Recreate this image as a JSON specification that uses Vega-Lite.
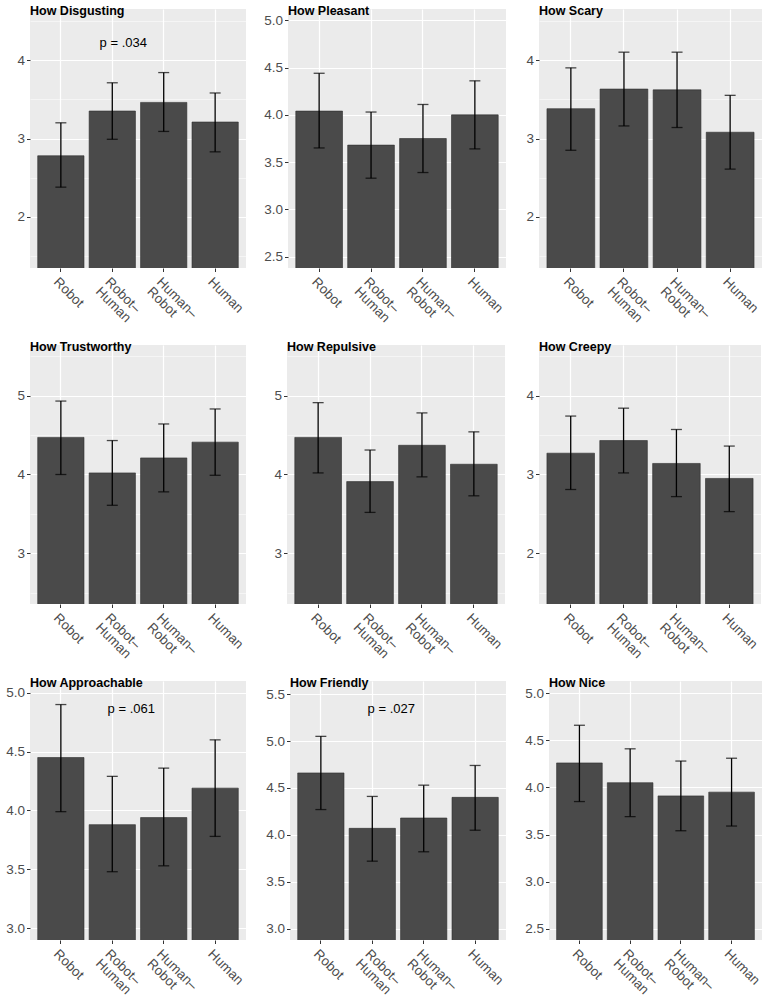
{
  "$schema": "https://vega.github.io/schema/vega-lite/v6.json",
  "padding": {"left": 5, "top": 4, "right": 0, "bottom": 0},
  "background": "white",
  "datasets": {
    "bars": [
      {"measure": "Disgusting", "cond": "Robot", "mean": 2.78, "lo": 2.38, "hi": 3.20},
      {"measure": "Disgusting", "cond": "Robot–Human", "mean": 3.35, "lo": 2.99, "hi": 3.71},
      {"measure": "Disgusting", "cond": "Human–Robot", "mean": 3.46, "lo": 3.09, "hi": 3.84},
      {"measure": "Disgusting", "cond": "Human", "mean": 3.21, "lo": 2.83, "hi": 3.58},
      {"measure": "Pleasant", "cond": "Robot", "mean": 4.04, "lo": 3.65, "hi": 4.44},
      {"measure": "Pleasant", "cond": "Robot–Human", "mean": 3.68, "lo": 3.33, "hi": 4.03},
      {"measure": "Pleasant", "cond": "Human–Robot", "mean": 3.75, "lo": 3.39, "hi": 4.11},
      {"measure": "Pleasant", "cond": "Human", "mean": 4.00, "lo": 3.64, "hi": 4.36},
      {"measure": "Scary", "cond": "Robot", "mean": 3.38, "lo": 2.85, "hi": 3.90},
      {"measure": "Scary", "cond": "Robot–Human", "mean": 3.63, "lo": 3.16, "hi": 4.10},
      {"measure": "Scary", "cond": "Human–Robot", "mean": 3.62, "lo": 3.14, "hi": 4.10},
      {"measure": "Scary", "cond": "Human", "mean": 3.08, "lo": 2.61, "hi": 3.55},
      {"measure": "Trustworthy", "cond": "Robot", "mean": 4.47, "lo": 4.00, "hi": 4.93},
      {"measure": "Trustworthy", "cond": "Robot–Human", "mean": 4.02, "lo": 3.61, "hi": 4.43},
      {"measure": "Trustworthy", "cond": "Human–Robot", "mean": 4.21, "lo": 3.78, "hi": 4.64},
      {"measure": "Trustworthy", "cond": "Human", "mean": 4.41, "lo": 3.99, "hi": 4.83},
      {"measure": "Repulsive", "cond": "Robot", "mean": 4.47, "lo": 4.02, "hi": 4.91},
      {"measure": "Repulsive", "cond": "Robot–Human", "mean": 3.91, "lo": 3.52, "hi": 4.31},
      {"measure": "Repulsive", "cond": "Human–Robot", "mean": 4.37, "lo": 3.97, "hi": 4.78},
      {"measure": "Repulsive", "cond": "Human", "mean": 4.13, "lo": 3.73, "hi": 4.54},
      {"measure": "Creepy", "cond": "Robot", "mean": 3.27, "lo": 2.81, "hi": 3.74},
      {"measure": "Creepy", "cond": "Robot–Human", "mean": 3.43, "lo": 3.02, "hi": 3.84},
      {"measure": "Creepy", "cond": "Human–Robot", "mean": 3.14, "lo": 2.72, "hi": 3.57},
      {"measure": "Creepy", "cond": "Human", "mean": 2.95, "lo": 2.53, "hi": 3.36},
      {"measure": "Approachable", "cond": "Robot", "mean": 4.45, "lo": 3.99, "hi": 4.90},
      {"measure": "Approachable", "cond": "Robot–Human", "mean": 3.88, "lo": 3.48, "hi": 4.29},
      {"measure": "Approachable", "cond": "Human–Robot", "mean": 3.94, "lo": 3.53, "hi": 4.36},
      {"measure": "Approachable", "cond": "Human", "mean": 4.19, "lo": 3.78, "hi": 4.60},
      {"measure": "Friendly", "cond": "Robot", "mean": 4.66, "lo": 4.27, "hi": 5.05},
      {"measure": "Friendly", "cond": "Robot–Human", "mean": 4.07, "lo": 3.72, "hi": 4.41},
      {"measure": "Friendly", "cond": "Human–Robot", "mean": 4.18, "lo": 3.82, "hi": 4.53},
      {"measure": "Friendly", "cond": "Human", "mean": 4.40, "lo": 4.05, "hi": 4.74},
      {"measure": "Nice", "cond": "Robot", "mean": 4.26, "lo": 3.85, "hi": 4.66},
      {"measure": "Nice", "cond": "Robot–Human", "mean": 4.05, "lo": 3.69, "hi": 4.41},
      {"measure": "Nice", "cond": "Human–Robot", "mean": 3.91, "lo": 3.54, "hi": 4.28},
      {"measure": "Nice", "cond": "Human", "mean": 3.95, "lo": 3.59, "hi": 4.31}
    ],
    "pvals": [
      {"measure": "Disgusting", "cond": "Robot–Human", "y": 4.22, "label": "p = .034"},
      {"measure": "Approachable", "cond": "Robot–Human", "y": 4.86, "label": "p = .061"},
      {"measure": "Friendly", "cond": "Robot–Human", "y": 5.34, "label": "p = .027"}
    ]
  },
  "spacing": 10,
  "vconcat": [
    {
      "spacing": 10,
      "hconcat": [
        {
          "width": 216, "height": 259,
          "title": "How Disgusting",
          "encoding": {"x": {"field": "cond", "type": "nominal", "sort": ["Robot", "Robot–Human", "Human–Robot", "Human"], "scale": {"paddingInner": 0.1, "paddingOuter": 0.15}, "axis": {"title": null}}},
          "layer": [
            {"data": {"name": "bars"}, "transform": [{"filter": "datum.measure === 'Disgusting'"}],
             "mark": {"type": "bar", "clip": true, "fill": "#4A4A4A", "stroke": "#2E2E2E", "strokeWidth": 0.6},
             "encoding": {"y": {"field": "mean", "type": "quantitative", "title": null, "scale": {"domain": [1.35, 4.65], "nice": false, "zero": false},
               "axis": {"values": [1.5, 2, 2.5, 3, 3.5, 4, 4.5], "labelExpr": "datum.value % 1 === 0 ? format(datum.value, 'd') : ''",
                 "gridWidth": {"condition": {"test": "datum.value % 1 === 0", "value": 1.2}, "value": 0.5},
                 "tickOpacity": {"condition": {"test": "datum.value % 1 === 0", "value": 1}, "value": 0},
                 "minExtent": 15, "maxExtent": 15}}}},
            {"data": {"name": "bars"}, "transform": [{"filter": "datum.measure === 'Disgusting'"}],
             "mark": {"type": "rule", "color": "black", "strokeWidth": 1.3},
             "encoding": {"y": {"field": "lo", "type": "quantitative", "title": null}, "y2": {"field": "hi"}}},
            {"data": {"name": "bars"}, "transform": [{"filter": "datum.measure === 'Disgusting'"}],
             "mark": {"type": "tick", "color": "black", "size": 11, "thickness": 1.3},
             "encoding": {"y": {"field": "lo", "type": "quantitative", "title": null}}},
            {"data": {"name": "bars"}, "transform": [{"filter": "datum.measure === 'Disgusting'"}],
             "mark": {"type": "tick", "color": "black", "size": 11, "thickness": 1.3},
             "encoding": {"y": {"field": "hi", "type": "quantitative", "title": null}}},
            {"data": {"name": "pvals"}, "transform": [{"filter": "datum.measure === 'Disgusting'"}],
             "mark": {"type": "text", "dx": 11, "fontSize": 13, "font": "Liberation Sans", "color": "black"},
             "encoding": {"y": {"field": "y", "type": "quantitative", "title": null}, "text": {"field": "label"}}}
          ]
        },
        {
          "width": 218, "height": 259,
          "title": "How Pleasant",
          "encoding": {"x": {"field": "cond", "type": "nominal", "sort": ["Robot", "Robot–Human", "Human–Robot", "Human"], "scale": {"paddingInner": 0.1, "paddingOuter": 0.15}, "axis": {"title": null}}},
          "layer": [
            {"data": {"name": "bars"}, "transform": [{"filter": "datum.measure === 'Pleasant'"}],
             "mark": {"type": "bar", "clip": true, "fill": "#4A4A4A", "stroke": "#2E2E2E", "strokeWidth": 0.6},
             "encoding": {"y": {"field": "mean", "type": "quantitative", "title": null, "scale": {"domain": [2.38, 5.12], "nice": false, "zero": false},
               "axis": {"values": [2.5, 2.75, 3, 3.25, 3.5, 3.75, 4, 4.25, 4.5, 4.75, 5], "labelExpr": "(datum.value * 2) % 1 === 0 ? format(datum.value, '.1f') : ''",
                 "gridWidth": {"condition": {"test": "(datum.value * 2) % 1 === 0", "value": 1.2}, "value": 0.5},
                 "tickOpacity": {"condition": {"test": "(datum.value * 2) % 1 === 0", "value": 1}, "value": 0},
                 "minExtent": 32, "maxExtent": 32}}}},
            {"data": {"name": "bars"}, "transform": [{"filter": "datum.measure === 'Pleasant'"}],
             "mark": {"type": "rule", "color": "black", "strokeWidth": 1.3},
             "encoding": {"y": {"field": "lo", "type": "quantitative", "title": null}, "y2": {"field": "hi"}}},
            {"data": {"name": "bars"}, "transform": [{"filter": "datum.measure === 'Pleasant'"}],
             "mark": {"type": "tick", "color": "black", "size": 11, "thickness": 1.3},
             "encoding": {"y": {"field": "lo", "type": "quantitative", "title": null}}},
            {"data": {"name": "bars"}, "transform": [{"filter": "datum.measure === 'Pleasant'"}],
             "mark": {"type": "tick", "color": "black", "size": 11, "thickness": 1.3},
             "encoding": {"y": {"field": "hi", "type": "quantitative", "title": null}}}
          ]
        },
        {
          "width": 223, "height": 259,
          "title": "How Scary",
          "encoding": {"x": {"field": "cond", "type": "nominal", "sort": ["Robot", "Robot–Human", "Human–Robot", "Human"], "scale": {"paddingInner": 0.1, "paddingOuter": 0.15}, "axis": {"title": null}}},
          "layer": [
            {"data": {"name": "bars"}, "transform": [{"filter": "datum.measure === 'Scary'"}],
             "mark": {"type": "bar", "clip": true, "fill": "#4A4A4A", "stroke": "#2E2E2E", "strokeWidth": 0.6},
             "encoding": {"y": {"field": "mean", "type": "quantitative", "title": null, "scale": {"domain": [1.35, 4.65], "nice": false, "zero": false},
               "axis": {"values": [1.5, 2, 2.5, 3, 3.5, 4, 4.5], "labelExpr": "datum.value % 1 === 0 ? format(datum.value, 'd') : ''",
                 "gridWidth": {"condition": {"test": "datum.value % 1 === 0", "value": 1.2}, "value": 0.5},
                 "tickOpacity": {"condition": {"test": "datum.value % 1 === 0", "value": 1}, "value": 0},
                 "minExtent": 23, "maxExtent": 23}}}},
            {"data": {"name": "bars"}, "transform": [{"filter": "datum.measure === 'Scary'"}],
             "mark": {"type": "rule", "color": "black", "strokeWidth": 1.3},
             "encoding": {"y": {"field": "lo", "type": "quantitative", "title": null}, "y2": {"field": "hi"}}},
            {"data": {"name": "bars"}, "transform": [{"filter": "datum.measure === 'Scary'"}],
             "mark": {"type": "tick", "color": "black", "size": 11, "thickness": 1.3},
             "encoding": {"y": {"field": "lo", "type": "quantitative", "title": null}}},
            {"data": {"name": "bars"}, "transform": [{"filter": "datum.measure === 'Scary'"}],
             "mark": {"type": "tick", "color": "black", "size": 11, "thickness": 1.3},
             "encoding": {"y": {"field": "hi", "type": "quantitative", "title": null}}}
          ]
        }
      ]
    },
    {
      "spacing": 10,
      "hconcat": [
        {
          "width": 216, "height": 259,
          "title": "How Trustworthy",
          "encoding": {"x": {"field": "cond", "type": "nominal", "sort": ["Robot", "Robot–Human", "Human–Robot", "Human"], "scale": {"paddingInner": 0.1, "paddingOuter": 0.15}, "axis": {"title": null}}},
          "layer": [
            {"data": {"name": "bars"}, "transform": [{"filter": "datum.measure === 'Trustworthy'"}],
             "mark": {"type": "bar", "clip": true, "fill": "#4A4A4A", "stroke": "#2E2E2E", "strokeWidth": 0.6},
             "encoding": {"y": {"field": "mean", "type": "quantitative", "title": null, "scale": {"domain": [2.36, 5.64], "nice": false, "zero": false},
               "axis": {"values": [2.5, 3, 3.5, 4, 4.5, 5, 5.5], "labelExpr": "datum.value % 1 === 0 ? format(datum.value, 'd') : ''",
                 "gridWidth": {"condition": {"test": "datum.value % 1 === 0", "value": 1.2}, "value": 0.5},
                 "tickOpacity": {"condition": {"test": "datum.value % 1 === 0", "value": 1}, "value": 0},
                 "minExtent": 15, "maxExtent": 15}}}},
            {"data": {"name": "bars"}, "transform": [{"filter": "datum.measure === 'Trustworthy'"}],
             "mark": {"type": "rule", "color": "black", "strokeWidth": 1.3},
             "encoding": {"y": {"field": "lo", "type": "quantitative", "title": null}, "y2": {"field": "hi"}}},
            {"data": {"name": "bars"}, "transform": [{"filter": "datum.measure === 'Trustworthy'"}],
             "mark": {"type": "tick", "color": "black", "size": 11, "thickness": 1.3},
             "encoding": {"y": {"field": "lo", "type": "quantitative", "title": null}}},
            {"data": {"name": "bars"}, "transform": [{"filter": "datum.measure === 'Trustworthy'"}],
             "mark": {"type": "tick", "color": "black", "size": 11, "thickness": 1.3},
             "encoding": {"y": {"field": "hi", "type": "quantitative", "title": null}}}
          ]
        },
        {
          "width": 218, "height": 259,
          "title": "How Repulsive",
          "encoding": {"x": {"field": "cond", "type": "nominal", "sort": ["Robot", "Robot–Human", "Human–Robot", "Human"], "scale": {"paddingInner": 0.1, "paddingOuter": 0.15}, "axis": {"title": null}}},
          "layer": [
            {"data": {"name": "bars"}, "transform": [{"filter": "datum.measure === 'Repulsive'"}],
             "mark": {"type": "bar", "clip": true, "fill": "#4A4A4A", "stroke": "#2E2E2E", "strokeWidth": 0.6},
             "encoding": {"y": {"field": "mean", "type": "quantitative", "title": null, "scale": {"domain": [2.36, 5.64], "nice": false, "zero": false},
               "axis": {"values": [2.5, 3, 3.5, 4, 4.5, 5, 5.5], "labelExpr": "datum.value % 1 === 0 ? format(datum.value, 'd') : ''",
                 "gridWidth": {"condition": {"test": "datum.value % 1 === 0", "value": 1.2}, "value": 0.5},
                 "tickOpacity": {"condition": {"test": "datum.value % 1 === 0", "value": 1}, "value": 0},
                 "minExtent": 31, "maxExtent": 31}}}},
            {"data": {"name": "bars"}, "transform": [{"filter": "datum.measure === 'Repulsive'"}],
             "mark": {"type": "rule", "color": "black", "strokeWidth": 1.3},
             "encoding": {"y": {"field": "lo", "type": "quantitative", "title": null}, "y2": {"field": "hi"}}},
            {"data": {"name": "bars"}, "transform": [{"filter": "datum.measure === 'Repulsive'"}],
             "mark": {"type": "tick", "color": "black", "size": 11, "thickness": 1.3},
             "encoding": {"y": {"field": "lo", "type": "quantitative", "title": null}}},
            {"data": {"name": "bars"}, "transform": [{"filter": "datum.measure === 'Repulsive'"}],
             "mark": {"type": "tick", "color": "black", "size": 11, "thickness": 1.3},
             "encoding": {"y": {"field": "hi", "type": "quantitative", "title": null}}}
          ]
        },
        {
          "width": 222, "height": 259,
          "title": "How Creepy",
          "encoding": {"x": {"field": "cond", "type": "nominal", "sort": ["Robot", "Robot–Human", "Human–Robot", "Human"], "scale": {"paddingInner": 0.1, "paddingOuter": 0.15}, "axis": {"title": null}}},
          "layer": [
            {"data": {"name": "bars"}, "transform": [{"filter": "datum.measure === 'Creepy'"}],
             "mark": {"type": "bar", "clip": true, "fill": "#4A4A4A", "stroke": "#2E2E2E", "strokeWidth": 0.6},
             "encoding": {"y": {"field": "mean", "type": "quantitative", "title": null, "scale": {"domain": [1.36, 4.64], "nice": false, "zero": false},
               "axis": {"values": [1.5, 2, 2.5, 3, 3.5, 4, 4.5], "labelExpr": "datum.value % 1 === 0 ? format(datum.value, 'd') : ''",
                 "gridWidth": {"condition": {"test": "datum.value % 1 === 0", "value": 1.2}, "value": 0.5},
                 "tickOpacity": {"condition": {"test": "datum.value % 1 === 0", "value": 1}, "value": 0},
                 "minExtent": 24, "maxExtent": 24}}}},
            {"data": {"name": "bars"}, "transform": [{"filter": "datum.measure === 'Creepy'"}],
             "mark": {"type": "rule", "color": "black", "strokeWidth": 1.3},
             "encoding": {"y": {"field": "lo", "type": "quantitative", "title": null}, "y2": {"field": "hi"}}},
            {"data": {"name": "bars"}, "transform": [{"filter": "datum.measure === 'Creepy'"}],
             "mark": {"type": "tick", "color": "black", "size": 11, "thickness": 1.3},
             "encoding": {"y": {"field": "lo", "type": "quantitative", "title": null}}},
            {"data": {"name": "bars"}, "transform": [{"filter": "datum.measure === 'Creepy'"}],
             "mark": {"type": "tick", "color": "black", "size": 11, "thickness": 1.3},
             "encoding": {"y": {"field": "hi", "type": "quantitative", "title": null}}}
          ]
        }
      ]
    },
    {
      "spacing": 10,
      "hconcat": [
        {
          "width": 216, "height": 259,
          "title": "How Approachable",
          "encoding": {"x": {"field": "cond", "type": "nominal", "sort": ["Robot", "Robot–Human", "Human–Robot", "Human"], "scale": {"paddingInner": 0.1, "paddingOuter": 0.15}, "axis": {"title": null}}},
          "layer": [
            {"data": {"name": "bars"}, "transform": [{"filter": "datum.measure === 'Approachable'"}],
             "mark": {"type": "bar", "clip": true, "fill": "#4A4A4A", "stroke": "#2E2E2E", "strokeWidth": 0.6},
             "encoding": {"y": {"field": "mean", "type": "quantitative", "title": null, "scale": {"domain": [2.9, 5.1], "nice": false, "zero": false},
               "axis": {"values": [3, 3.25, 3.5, 3.75, 4, 4.25, 4.5, 4.75, 5], "labelExpr": "(datum.value * 2) % 1 === 0 ? format(datum.value, '.1f') : ''",
                 "gridWidth": {"condition": {"test": "(datum.value * 2) % 1 === 0", "value": 1.2}, "value": 0.5},
                 "tickOpacity": {"condition": {"test": "(datum.value * 2) % 1 === 0", "value": 1}, "value": 0},
                 "minExtent": 25, "maxExtent": 25}}}},
            {"data": {"name": "bars"}, "transform": [{"filter": "datum.measure === 'Approachable'"}],
             "mark": {"type": "rule", "color": "black", "strokeWidth": 1.3},
             "encoding": {"y": {"field": "lo", "type": "quantitative", "title": null}, "y2": {"field": "hi"}}},
            {"data": {"name": "bars"}, "transform": [{"filter": "datum.measure === 'Approachable'"}],
             "mark": {"type": "tick", "color": "black", "size": 11, "thickness": 1.3},
             "encoding": {"y": {"field": "lo", "type": "quantitative", "title": null}}},
            {"data": {"name": "bars"}, "transform": [{"filter": "datum.measure === 'Approachable'"}],
             "mark": {"type": "tick", "color": "black", "size": 11, "thickness": 1.3},
             "encoding": {"y": {"field": "hi", "type": "quantitative", "title": null}}},
            {"data": {"name": "pvals"}, "transform": [{"filter": "datum.measure === 'Approachable'"}],
             "mark": {"type": "text", "dx": 19, "fontSize": 13, "font": "Liberation Sans", "color": "black"},
             "encoding": {"y": {"field": "y", "type": "quantitative", "title": null}, "text": {"field": "label"}}}
          ]
        },
        {
          "width": 216, "height": 259,
          "title": "How Friendly",
          "encoding": {"x": {"field": "cond", "type": "nominal", "sort": ["Robot", "Robot–Human", "Human–Robot", "Human"], "scale": {"paddingInner": 0.1, "paddingOuter": 0.15}, "axis": {"title": null}}},
          "layer": [
            {"data": {"name": "bars"}, "transform": [{"filter": "datum.measure === 'Friendly'"}],
             "mark": {"type": "bar", "clip": true, "fill": "#4A4A4A", "stroke": "#2E2E2E", "strokeWidth": 0.6},
             "encoding": {"y": {"field": "mean", "type": "quantitative", "title": null, "scale": {"domain": [2.88, 5.64], "nice": false, "zero": false},
               "axis": {"values": [3, 3.25, 3.5, 3.75, 4, 4.25, 4.5, 4.75, 5, 5.25, 5.5], "labelExpr": "(datum.value * 2) % 1 === 0 ? format(datum.value, '.1f') : ''",
                 "gridWidth": {"condition": {"test": "(datum.value * 2) % 1 === 0", "value": 1.2}, "value": 0.5},
                 "tickOpacity": {"condition": {"test": "(datum.value * 2) % 1 === 0", "value": 1}, "value": 0},
                 "minExtent": 34, "maxExtent": 34}}}},
            {"data": {"name": "bars"}, "transform": [{"filter": "datum.measure === 'Friendly'"}],
             "mark": {"type": "rule", "color": "black", "strokeWidth": 1.3},
             "encoding": {"y": {"field": "lo", "type": "quantitative", "title": null}, "y2": {"field": "hi"}}},
            {"data": {"name": "bars"}, "transform": [{"filter": "datum.measure === 'Friendly'"}],
             "mark": {"type": "tick", "color": "black", "size": 11, "thickness": 1.3},
             "encoding": {"y": {"field": "lo", "type": "quantitative", "title": null}}},
            {"data": {"name": "bars"}, "transform": [{"filter": "datum.measure === 'Friendly'"}],
             "mark": {"type": "tick", "color": "black", "size": 11, "thickness": 1.3},
             "encoding": {"y": {"field": "hi", "type": "quantitative", "title": null}}},
            {"data": {"name": "pvals"}, "transform": [{"filter": "datum.measure === 'Friendly'"}],
             "mark": {"type": "text", "dx": 19, "fontSize": 13, "font": "Liberation Sans", "color": "black"},
             "encoding": {"y": {"field": "y", "type": "quantitative", "title": null}, "text": {"field": "label"}}}
          ]
        },
        {
          "width": 213, "height": 259,
          "title": "How Nice",
          "encoding": {"x": {"field": "cond", "type": "nominal", "sort": ["Robot", "Robot–Human", "Human–Robot", "Human"], "scale": {"paddingInner": 0.1, "paddingOuter": 0.15}, "axis": {"title": null}}},
          "layer": [
            {"data": {"name": "bars"}, "transform": [{"filter": "datum.measure === 'Nice'"}],
             "mark": {"type": "bar", "clip": true, "fill": "#4A4A4A", "stroke": "#2E2E2E", "strokeWidth": 0.6},
             "encoding": {"y": {"field": "mean", "type": "quantitative", "title": null, "scale": {"domain": [2.38, 5.13], "nice": false, "zero": false},
               "axis": {"values": [2.5, 2.75, 3, 3.25, 3.5, 3.75, 4, 4.25, 4.5, 4.75, 5], "labelExpr": "(datum.value * 2) % 1 === 0 ? format(datum.value, '.1f') : ''",
                 "gridWidth": {"condition": {"test": "(datum.value * 2) % 1 === 0", "value": 1.2}, "value": 0.5},
                 "tickOpacity": {"condition": {"test": "(datum.value * 2) % 1 === 0", "value": 1}, "value": 0},
                 "minExtent": 33, "maxExtent": 33}}}},
            {"data": {"name": "bars"}, "transform": [{"filter": "datum.measure === 'Nice'"}],
             "mark": {"type": "rule", "color": "black", "strokeWidth": 1.3},
             "encoding": {"y": {"field": "lo", "type": "quantitative", "title": null}, "y2": {"field": "hi"}}},
            {"data": {"name": "bars"}, "transform": [{"filter": "datum.measure === 'Nice'"}],
             "mark": {"type": "tick", "color": "black", "size": 11, "thickness": 1.3},
             "encoding": {"y": {"field": "lo", "type": "quantitative", "title": null}}},
            {"data": {"name": "bars"}, "transform": [{"filter": "datum.measure === 'Nice'"}],
             "mark": {"type": "tick", "color": "black", "size": 11, "thickness": 1.3},
             "encoding": {"y": {"field": "hi", "type": "quantitative", "title": null}}}
          ]
        }
      ]
    }
  ],
  "config": {
    "font": "Liberation Sans",
    "view": {"fill": "#EBEBEB", "stroke": null},
    "title": {"fontSize": 12.5, "fontWeight": "bold", "anchor": "start", "frame": "group", "color": "black", "offset": -8, "font": "Liberation Sans"},
    "axisY": {"domain": false, "gridColor": "white", "tickColor": "#333333", "tickSize": 3.5, "tickWidth": 1, "labelColor": "#4D4D4D", "labelFontSize": 13.5, "labelPadding": 2},
    "axisX": {"domain": false, "grid": true, "bandPosition": 0.5, "gridColor": "white", "gridWidth": 1.2, "tickColor": "#333333", "tickSize": 3.5, "tickWidth": 1,
      "labelColor": "#4D4D4D", "labelFontSize": 13.5, "labelAngle": 45, "labelAlign": "left", "labelBaseline": "top", "labelPadding": 3, "labelLineHeight": 13.5,
      "labelExpr": "indexof(datum.label, '–') > 0 ? [slice(datum.label, 0, indexof(datum.label, '–') + 1), slice(datum.label, indexof(datum.label, '–') + 1)] : datum.label"}
  }
}
